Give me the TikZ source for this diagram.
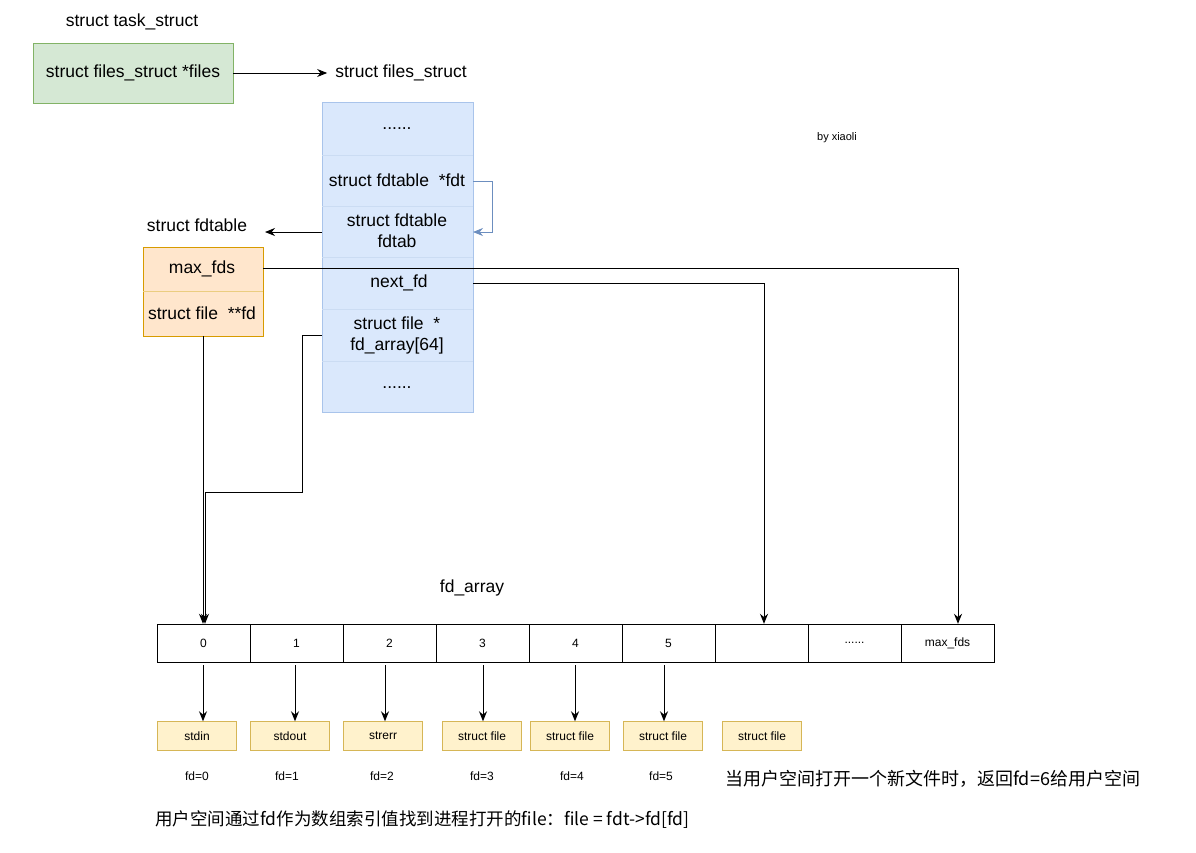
\documentclass[tikz,border=0pt]{standalone}
\usepackage{fontspec}
\setmainfont{Liberation Sans}
\newfontfamily\cjk{Noto Sans CJK SC}
\usetikzlibrary{arrows.meta}
\definecolor{gfill}{HTML}{D5E8D4}\definecolor{gdraw}{HTML}{82B366}
\definecolor{bfill}{HTML}{DAE8FC}\definecolor{bdraw}{HTML}{A9C4EB}
\definecolor{ofill}{HTML}{FFE6CC}\definecolor{odraw}{HTML}{D79B00}
\definecolor{yfill}{HTML}{FFF2CC}\definecolor{ydraw}{HTML}{D6B656}
\definecolor{barrow}{HTML}{6C8EBF}
\tikzset{
 txt/.style={font=\fontsize{17.5}{20}\selectfont,align=center,inner sep=0},
 sm/.style={font=\fontsize{12}{14}\selectfont,inner sep=0},
 cell/.style={draw,minimum width=93pt,minimum height=38pt,sm},
 ybox/.style={draw=ydraw,fill=yfill,minimum width=79pt,minimum height=29pt,sm},
 arr/.style={-{Stealth[length=10pt,width=8pt]},line width=1pt},
}
\begin{document}
\begin{tikzpicture}[x=1pt,y=-1pt]
\useasboundingbox (0,0) rectangle (1196,852);
\node[txt] (tt) at (132,22) {struct task\_struct};
\node[draw=gdraw,fill=gfill,minimum width=200pt,minimum height=60pt,txt] (files) at (133,73) {struct files\_struct *files};
\node[txt] (fst) at (401,73) {struct files\_struct};
\draw[arr] (files.east) -- ([xshift=-8pt]fst.west);
% blue column
\draw[draw=bdraw,fill=bfill] (322,102) rectangle (473,412);
\foreach \y in {155,206,257,309,361} \draw[draw=bdraw!60,line width=0.3pt] (322,\y) -- (473,\y);
\node[txt] (r1) at (397,129) {......};
\node[txt] (r2) at (397,180) {struct fdtable\ \ *fdt};
\node[txt] (r3) at (397,231) {struct fdtable\\[1pt]fdtab};
\node[txt] (r4) at (399,283) {next\_fd};
\node[txt] (r5) at (397,335) {struct file\ \ *\\[1pt]fd\_array[64]};
\node[txt] (r6) at (397,388) {......};
\coordinate (fdtR) at (473,181); \coordinate (fdtabR) at (473,232);
\draw[barrow,arr,line width=0.8pt] (fdtR) -- (492,181) -- (492,232) -- (fdtabR);
\node[txt] (fdtlbl) at (197,225) {struct fdtable};
\coordinate (fdtabL) at (322,232);
\draw[arr] (fdtabL) -- (265,232);
% orange
\draw[draw=odraw,fill=ofill] (143,247) rectangle (263,336);
\draw[draw=odraw!50,line width=0.3pt] (143,291) -- (263,291);
\node[txt] (mf) at (202,269) {max\_fds};
\node[txt] (ffd) at (202,313) {struct file\ \ **fd};
% array
\node[txt] (fda) at (472,588) {fd\_array};
\foreach \i/\t in {0/0,1/1,2/2,3/3,4/4,5/5,6/{},7/{......},8/max\_fds}
  \node[cell] (c\i) at ({203.5+93*\i},643) {\t};
\coordinate (mfR) at (263,268); \coordinate (nfR) at (473,283);
\coordinate (fdB) at (203,336); \coordinate (faL) at (322,335);
\coordinate (m1) at (958,268); \coordinate (n1c) at (764,283);
\coordinate (m2) at (205,492);
\draw[arr] (mfR) -- (m1) -- (m1 |- c8.north);
\draw[arr] (nfR) -- (n1c) -- (n1c |- c6.north);
\draw[arr] (fdB) -- (fdB |- c0.north);
\draw[arr] (faL) -- (302,335) -- (302,492) -- (m2) -- (m2 |- c0.north);
% yellow
\foreach \i/\x/\t in {0/197/stdin,1/290/stdout,2/383/strerr,3/482/struct file,4/570/struct file,5/663/struct file,6/762/struct file}
  \node[ybox] (y\i) at (\x,736) {\t};
\foreach \i/\x in {0/203,1/295,2/385,3/483,4/575,5/664}
  {\coordinate (t\i) at (\x,665); \draw[arr] (t\i) -- (t\i |- y\i.north);}
\foreach \i/\x in {0/197,1/287,2/382,3/482,4/572,5/661}
  \node[sm] (f\i) at (\x,776) {fd=\i};
\node[sm,font=\fontsize{11}{13}\selectfont] (by) at (837,138) {by xiaoli};
\node[txt,anchor=west,font=\fontsize{18}{20}\selectfont] (n1) at (725,779) {\cjk 当用户空间打开一个新文件时，返回fd=6给用户空间};
\node[txt,anchor=west,font=\fontsize{17.5}{20}\selectfont] (n2) at (155,820) {\cjk 用户空间通过fd作为数组索引值找到进程打开的file：file = fdt->fd[fd]};
\end{tikzpicture}
\end{document}
